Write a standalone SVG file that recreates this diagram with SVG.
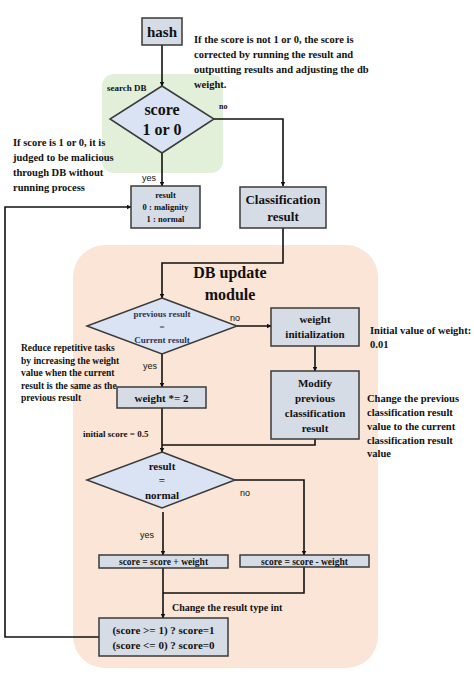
<svg xmlns="http://www.w3.org/2000/svg" width="474" height="687" viewBox="0 0 474 687">
<style>
text{font-family:"Liberation Serif","Times New Roman",serif;font-weight:bold;fill:#111}
.box{fill:#d6dce5;stroke:#3a3a3a;stroke-width:1.5}
.dia{fill:#dae3f3;stroke:#3a3a3a;stroke-width:1.5}
.ln{fill:none;stroke:#111;stroke-width:1.6}
.c{text-anchor:middle}
.sans{font-family:"Liberation Sans",Arial,sans-serif;font-weight:normal}
.note{font-size:10.5px}
.dt{fill:#2a3550}
</style>
<defs>
<marker id="ah" viewBox="0 0 10 10" refX="9" refY="5" markerWidth="5" markerHeight="5" orient="auto" markerUnits="userSpaceOnUse">
<path d="M0,0 L10,5 L0,10 z" fill="#111"/>
</marker>
</defs>
<rect width="474" height="687" fill="#fff"/>
<g id="regions">
<rect id="search-db-region" x="102" y="74" width="121" height="99" rx="12" fill="#e2efd9"/>
<rect id="db-update-region" x="73" y="245" width="305" height="423" rx="32" fill="#fbe5d6"/>
</g>
<g id="connectors">
<line class="ln" x1="162" y1="45" x2="162" y2="86" marker-end="url(#ah)"/>
<polyline class="ln" points="214,119 283,119 283,186" marker-end="url(#ah)"/>
<line class="ln" x1="162" y1="153" x2="162" y2="186" marker-end="url(#ah)"/>
<polyline class="ln" points="100,637 5,637 5,207 131,207" marker-end="url(#ah)"/>
<polyline class="ln" points="283,228 283,263 162,263 162,298" marker-end="url(#ah)"/>
<line class="ln" x1="237" y1="326" x2="271" y2="326" marker-end="url(#ah)"/>
<line class="ln" x1="315" y1="346" x2="315" y2="371" marker-end="url(#ah)"/>
<line class="ln" x1="162" y1="354" x2="162" y2="387" marker-end="url(#ah)"/>
<polyline class="ln" points="162,408 162,452" marker-end="url(#ah)"/>
<polyline class="ln" points="315,439 315,445 162,445"/>
<polyline class="ln" points="235,480 304,480 304,555" marker-end="url(#ah)"/>
<line class="ln" x1="163" y1="512" x2="163" y2="555" marker-end="url(#ah)"/>
<line class="ln" x1="163" y1="568" x2="163" y2="618" marker-end="url(#ah)"/>
<polyline class="ln" points="304,567 304,593 163,593"/>
</g>
<g id="hash">
<rect class="box" x="142" y="18" width="40" height="27"/>
<text class="c" x="162" y="37" font-size="15">hash</text>
</g>
<g id="note-top">
<text class="note" x="194" y="43">If the score is not 1 or 0, the score is</text>
<text class="note" x="194" y="58">corrected by running the result and</text>
<text class="note" x="194" y="73">outputting results and adjusting the db</text>
<text class="note" x="194" y="88">weight.</text>
</g>
<text x="107" y="91" font-size="9">search DB</text>
<g id="score-decision">
<polygon class="dia" points="162,86 214,119 162,153 110,119"/>
<text class="c" x="162" y="115" font-size="16">score</text>
<text class="c" x="162" y="135" font-size="16">1 or 0</text>
</g>
<text x="219" y="109" font-size="8">no</text>
<text class="sans" x="142" y="181" font-size="9">yes</text>
<g id="note-left">
<text class="note" x="13" y="146">If score is 1 or 0, it is</text>
<text class="note" x="13" y="161">judged to be malicious</text>
<text class="note" x="13" y="176">through DB without</text>
<text class="note" x="13" y="191">running process</text>
</g>
<g id="result">
<rect class="box" x="131" y="186" width="69" height="42"/>
<text class="c" x="165.5" y="198" font-size="8.5">result</text>
<text class="c" x="165.5" y="210" font-size="8.5">0 : malignity</text>
<text class="c" x="165.5" y="222" font-size="8.5">1 : normal</text>
</g>
<g id="classification-result">
<rect class="box" x="240" y="187" width="86" height="41"/>
<text class="c" x="283" y="204" font-size="13">Classification</text>
<text class="c" x="283" y="221" font-size="13">result</text>
</g>
<g id="db-update-title">
<text class="c" x="230" y="278" font-size="16">DB update</text>
<text class="c" x="230" y="300" font-size="16">module</text>
</g>
<g id="previous-decision">
<polygon class="dia" points="162,298 237,326 162,354 87,326"/>
<text class="c dt" x="162" y="317" font-size="9">previous result</text>
<text class="c dt" x="162" y="330" font-size="9">=</text>
<text class="c dt" x="162" y="343" font-size="9">Current result</text>
</g>
<text class="sans" x="230" y="321" font-size="9">no</text>
<text class="sans" x="143" y="369" font-size="9">yes</text>
<g id="weight-init">
<rect class="box" x="271" y="308" width="88" height="38"/>
<text class="c" x="315" y="323" font-size="11">weight</text>
<text class="c" x="315" y="338" font-size="11">initialization</text>
</g>
<g id="note-weight">
<text class="note" x="370" y="334">Initial value of weight:</text>
<text class="note" x="370" y="348">0.01</text>
</g>
<g id="modify">
<rect class="box" x="271" y="371" width="88" height="68"/>
<text class="c" x="315" y="387" font-size="11">Modify</text>
<text class="c" x="315" y="402" font-size="11">previous</text>
<text class="c" x="315" y="417" font-size="11">classification</text>
<text class="c" x="315" y="432" font-size="11">result</text>
</g>
<g id="note-change">
<text class="note" x="367" y="402">Change the previous</text>
<text class="note" x="367" y="416">classification result</text>
<text class="note" x="367" y="430">value to the current</text>
<text class="note" x="367" y="444">classification result</text>
<text class="note" x="367" y="457">value</text>
</g>
<g id="note-reduce">
<text x="21" y="351" font-size="9.5">Reduce repetitive tasks</text>
<text x="21" y="364" font-size="9.5">by increasing the weight</text>
<text x="21" y="376" font-size="9.5">value when the current</text>
<text x="21" y="389" font-size="9.5">result is the same as the</text>
<text x="21" y="401" font-size="9.5">previous result</text>
</g>
<g id="weight-double">
<rect class="box" x="117" y="387" width="89" height="21"/>
<text class="c" x="161.5" y="402" font-size="11">weight *= 2</text>
</g>
<text x="83" y="437" font-size="9">initial score = 0.5</text>
<g id="normal-decision">
<polygon class="dia" points="162,452 235,480 162,508 87,480"/>
<text class="c" x="162" y="470" font-size="11">result</text>
<text class="c" x="162" y="484" font-size="11">=</text>
<text class="c" x="162" y="499" font-size="11">normal</text>
</g>
<text class="sans" x="240" y="496" font-size="9">no</text>
<text class="sans" x="140" y="538" font-size="9">yes</text>
<g id="score-plus">
<rect class="box" x="99" y="555" width="129" height="13"/>
<text class="c" x="163.5" y="565" font-size="9.5">score = score + weight</text>
</g>
<g id="score-minus">
<rect class="box" x="240" y="555" width="129" height="12"/>
<text class="c" x="304.5" y="564.5" font-size="9.5">score = score - weight</text>
</g>
<text x="172" y="611" font-size="10">Change the result type int</text>
<g id="clamp">
<rect class="box" x="99" y="618" width="129" height="38"/>
<text class="c" x="163.5" y="634" font-size="11">(score &gt;= 1) ? score=1</text>
<text class="c" x="163.5" y="649" font-size="11">(score &lt;= 0) ? score=0</text>
</g>
</svg>
